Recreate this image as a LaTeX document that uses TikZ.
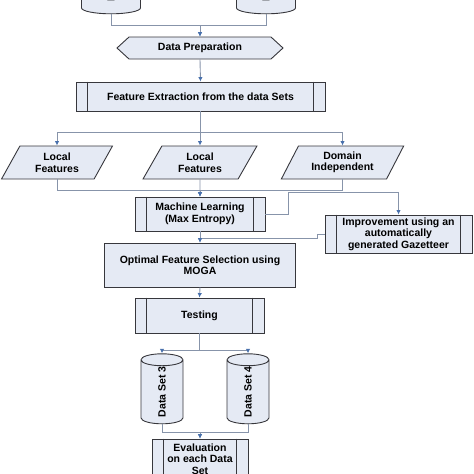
\documentclass[tikz,border=0pt]{standalone}
\usepackage{fontspec}
\setmainfont{Liberation Sans}
\usetikzlibrary{shapes.geometric,shapes.symbols,arrows.meta}
\definecolor{boxfill}{RGB}{229,234,244}
\definecolor{boxline}{RGB}{55,55,60}
\definecolor{linec}{RGB}{135,148,170}
\definecolor{tipc}{RGB}{72,112,172}

\begin{document}
\begin{tikzpicture}[x=1pt,y=1pt,
	main/.style={rectangle, draw=boxline, fill=boxfill, line width=0.9pt, align=center, inner sep=2pt,
		font=\fontsize{10.5}{11.5}\selectfont\bfseries},
	sub/.style={main},
	io/.style={main, trapezium, trapezium left angle=63, trapezium right angle=117, trapezium stretches=true},
	prep/.style={main, signal, signal to=west and east, signal pointer angle=85},
	store/.style={main, cylinder, rotate=90, aspect=1.6, inner sep=0pt},
	line/.style={draw=linec, line width=0.9pt},
	arr/.style={line, -{Latex[length=4.5pt,width=4.5pt,color=tipc]}}
	]
	\useasboundingbox (0,0) rectangle (474,-474);
	\clip (0,0) rectangle (474,-474);

	\node (ds1) [store, minimum width=59pt, minimum height=82pt] at (111,24) {Data Set 1};
	\node (ds2) [store, minimum width=59pt, minimum height=82pt] at (266,24) {Data Set 2};

	\node (dataprep) [prep, minimum width=166pt, minimum height=22pt] at (200,-48) {Data Preparation};

	\node (featext) [sub, minimum width=249pt, minimum height=29pt] at (200.5,-96.5) {Feature Extraction from the data Sets};

		\node (local1) [io, minimum width=111pt, minimum height=33pt] at (57,-162.5) {Local\\Features};
		\node (local2) [io, minimum width=114pt, minimum height=33pt] at (200,-162.5) {Local\\Features};
		\node (domain) [io, minimum width=123pt, minimum height=33pt] at (342.5,-162.5) {Domain\\Independent};

	\node (ml) [sub, minimum width=130pt, minimum height=34pt] at (200,-214) {Machine Learning\\(Max Entropy)};
	\node (gazet) [sub, minimum width=147pt, minimum height=38pt] at (398.5,-234) {Improvement using an\\automatically\\generated Gazetteer};

	\node (moga) [main, minimum width=191pt, minimum height=44pt] at (200,-265) {Optimal Feature Selection using\\MOGA};
	\node (testing) [sub, minimum width=129pt, minimum height=35pt] at (199.5,-315.5) {Testing};

		\node (ds3) [store, minimum width=42pt, minimum height=70pt] at (162,-392) {Data Set 3};
		\node (ds4) [store, minimum width=42pt, minimum height=70pt] at (248,-392) {Data Set 4};

	\node (eval) [sub, minimum width=96pt, minimum height=40pt] at (200,-459) {Evaluation\\on each Data\\Set};

	\foreach \n in {featext,ml,gazet,testing,eval}
		\draw [line, draw=boxline] ([xshift=12pt]\n.north west) -- ([xshift=12pt]\n.south west)
			([xshift=-12pt]\n.north east) -- ([xshift=-12pt]\n.south east);

	\draw [arr] (ds1.west)--++(0,-11)-| (dataprep.north);
	\draw [arr] (ds2.west)--++(0,-11)-| (dataprep.north);
	\draw [arr] (dataprep.south)-- (featext.north);

	\draw [arr] (featext.south)--++(0,-21)-| (local1.north);
	\draw [arr] (featext.south)--++(0,-21)-| (local2.north);
	\draw [arr] (featext.south)--++(0,-21)-| (domain.north);

	\draw [arr] (local1.south)--++(0,-11)-| (ml.north);
	\draw [arr] (domain.south)--++(0,-11)-| (ml.north);
	\draw [arr] (local2.south)-- (ml.north);

	\draw [arr] (ml.east)--++(23,0) |- ([yshift=22pt]gazet.north)-- (gazet.north);
	\draw [arr] (ml.south)-- (moga.north);
	\draw [arr] (gazet.west)--++(-7,0)--++(0,-4)-| (moga.north);
	\draw [arr] (moga.south)-- (testing.north);

	\draw [arr] (testing.south)--++(0,-17)-| (ds3.east);
	\draw [arr] (testing.south)--++(0,-17)-| (ds4.east);
	\draw [arr] (ds3.west)--++(0,-8)-| (eval.north);
	\draw [arr] (ds4.west)--++(0,-8)-| (eval.north);

\end{tikzpicture}
\end{document}
